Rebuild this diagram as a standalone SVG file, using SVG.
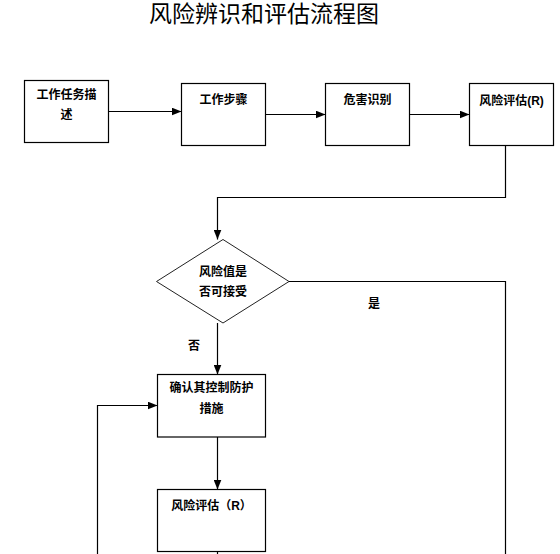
<svg xmlns="http://www.w3.org/2000/svg" width="560" height="554" viewBox="0 0 560 554">
<style>
.box{fill:#fff;stroke:#000;stroke-width:1.2}
.dia{fill:#fff;stroke:#222;stroke-width:1}
.t{font-family:"Liberation Sans","Noto Sans CJK SC",sans-serif;font-size:12px;font-weight:bold;fill:#000;text-anchor:middle}
.title{font-family:"Liberation Sans","Noto Sans CJK SC",sans-serif;font-size:23px;fill:#000;text-anchor:middle}
.c{fill:none;stroke:#000;stroke-width:1.2}
</style>
<defs>
<marker id="ah" viewBox="0 0 10 8" refX="10" refY="4" markerWidth="10" markerHeight="8" markerUnits="userSpaceOnUse" orient="auto">
<path d="M0,0 L10,4 L0,8 z" fill="#000"/>
</marker>
</defs>
<rect width="560" height="554" fill="#fff"/>
<text class="title" x="264" y="22">风险辨识和评估流程图</text>
<g id="connectors">
<path class="c" d="M108.5,111.5 H181.5" marker-end="url(#ah)"/>
<path class="c" d="M265.5,114.5 H325.5" marker-end="url(#ah)"/>
<path class="c" d="M409.5,114.5 H469.5" marker-end="url(#ah)"/>
<path class="c" d="M505.5,145.5 V197.5 H217.5 V239.5" marker-end="url(#ah)"/>
<path class="c" d="M217.5,323 V374.5" marker-end="url(#ah)"/>
<path class="c" d="M217.5,437 V489.5" marker-end="url(#ah)"/>
<path class="c" d="M217.5,551.5 V554"/>
<path class="c" d="M289,281.5 H505.5 V554"/>
<path class="c" d="M97.5,554 V405.5 H157.5" marker-end="url(#ah)"/>
<text class="t" x="374" y="308">是</text>
<text class="t" x="194" y="349.5">否</text>
</g>
<g id="n1">
<rect class="box" x="24.5" y="80.5" width="84" height="62"/>
<text class="t" x="66.5" y="98.5">工作任务描</text>
<text class="t" x="66.5" y="118.5">述</text>
</g>
<g id="n2">
<rect class="box" x="181.5" y="83.5" width="84" height="62"/>
<text class="t" x="223.5" y="104">工作步骤</text>
</g>
<g id="n3">
<rect class="box" x="325.5" y="83.5" width="84" height="62"/>
<text class="t" x="367.5" y="104">危害识别</text>
</g>
<g id="n4">
<rect class="box" x="469.5" y="83.5" width="84" height="62"/>
<text class="t" x="511.5" y="105">风险评估(R)</text>
</g>
<g id="n5">
<polygon class="dia" points="223,239.5 289,281.5 223,323 156.5,281.5"/>
<text class="t" x="223" y="276">风险值是</text>
<text class="t" x="223" y="296">否可接受</text>
</g>
<g id="n6">
<rect class="box" x="157.5" y="374.5" width="108" height="62.5"/>
<text class="t" x="211.5" y="392">确认其控制防护</text>
<text class="t" x="211.5" y="413">措施</text>
</g>
<g id="n7">
<rect class="box" x="157.5" y="489.5" width="108" height="62"/>
<text class="t" x="211.5" y="509.5">风险评估（R）</text>
</g>
</svg>
